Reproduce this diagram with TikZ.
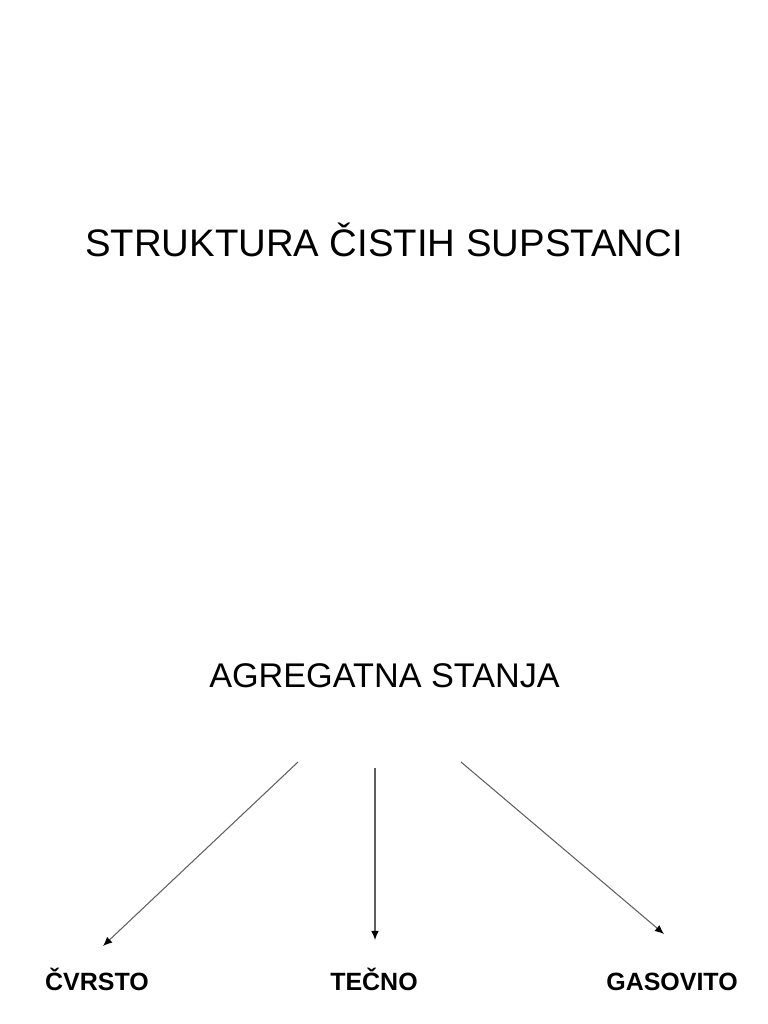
\documentclass[tikz,border=0pt]{standalone}
\usepackage{fontspec}
\setmainfont{Liberation Sans}
\usetikzlibrary{arrows.meta}
\tikzset{>=latex}
\definecolor{mygray1}{RGB}{95, 95, 95}

\begin{document}
\begin{tikzpicture}[
    x = 0.01cm, y = -0.01cm,
    t0/.style = {font = \fontsize{10.9pt}{13pt}\selectfont, anchor = base, inner sep = 0pt},
    t1/.style = {font = \fontsize{9.73pt}{12pt}\selectfont, anchor = base, inner sep = 0pt},
    t2/.style = {font = \fontsize{7.1pt}{9pt}\selectfont\bfseries, anchor = base, inner sep = 0pt},
    a0/.style = {line width = 0.3pt, mygray1, -{Latex[length = 2.6pt, width = 2.2pt, color = black]}},
]
\useasboundingbox (0,0) rectangle (768,1024);

\node[t0] (naslov) at (384, 256) {STRUKTURA ČISTIH SUPSTANCI};
\node[t1] (agregat) at (384.5, 687) {AGREGATNA STANJA};

\node[t2] (cvrsto) at (97, 990) {ČVRSTO};
\node[t2] (tecno) at (374, 990) {TEČNO};
\node[t2] (gasovito) at (672, 990) {GASOVITO};

% krajevi strelica
\coordinate (s1) at (298, 762);
\coordinate (e1) at (103, 946);
\coordinate (s2) at (375, 768);
\coordinate (e2) at (375, 940);
\coordinate (s3) at (461, 762);
\coordinate (e3) at (664, 934);

\draw[a0] (s1) -- (e1);
\draw[a0] (s2) -- (e2);
\draw[a0] (s3) -- (e3);

\end{tikzpicture}
\end{document}
